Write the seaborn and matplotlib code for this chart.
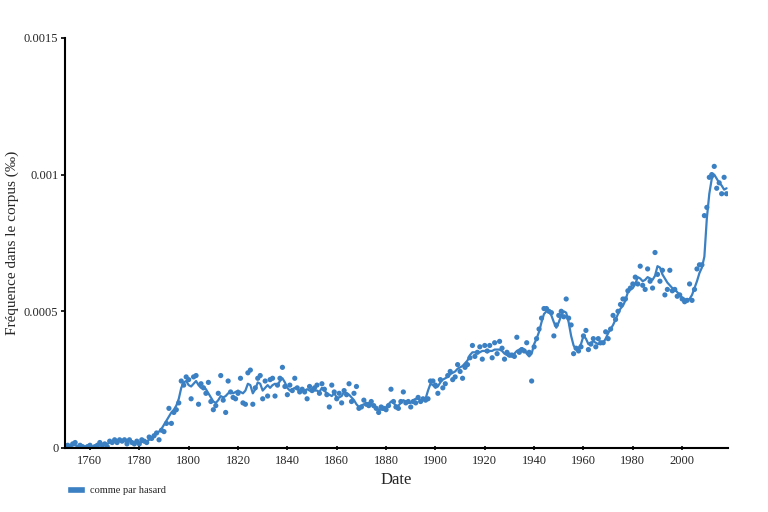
import numpy as np
import pandas as pd
import seaborn as sns
import matplotlib.pyplot as plt
from matplotlib.patches import Patch
from matplotlib.ticker import FixedLocator, FixedFormatter

# yearly frequencies, in units of 1e-4 per mille (1750-2018)
years = list(range(1750, 2019))

points = [
    0.0, 0.1, 0.05, 0.15, 0.2, 0.0, 0.1, 0.05, 0.0, 0.05,      # 1750s
    0.1, 0.0, 0.05, 0.1, 0.2, 0.1, 0.15, 0.05, 0.25, 0.2,      # 1760s
    0.3, 0.2, 0.3, 0.25, 0.3, 0.15, 0.3, 0.2, 0.15, 0.25,      # 1770s
    0.15, 0.3, 0.25, 0.2, 0.4, 0.35, 0.45, 0.55, 0.3, 0.65,    # 1780s
    0.6, 0.9, 1.45, 0.9, 1.3, 1.4, 1.65, 2.45, 2.3, 2.6,       # 1790s
    2.5, 1.8, 2.6, 2.65, 1.6, 2.35, 2.2, 2.0, 2.4, 1.7,        # 1800s
    1.4, 1.55, 2.0, 2.65, 1.75, 1.3, 2.45, 2.05, 1.85, 1.8,    # 1810s
    2.0, 2.55, 1.65, 1.6, 2.75, 2.85, 1.6, 2.2, 2.55, 2.65,    # 1820s
    1.8, 2.45, 1.9, 2.5, 2.55, 1.9, 2.3, 2.55, 2.95, 2.25,     # 1830s
    1.95, 2.3, 2.1, 2.55, 2.2, 2.05, 2.15, 2.05, 1.8, 2.25,    # 1840s
    2.1, 2.2, 2.3, 2.0, 2.35, 2.15, 1.95, 1.5, 2.3, 2.05,      # 1850s
    1.8, 2.0, 1.65, 2.1, 1.95, 2.35, 1.7, 2.0, 2.25, 1.45,     # 1860s
    1.5, 1.75, 1.6, 1.55, 1.7, 1.55, 1.45, 1.3, 1.5, 1.45,     # 1870s
    1.4, 1.55, 2.15, 1.7, 1.5, 1.45, 1.7, 2.05, 1.65, 1.7,     # 1880s
    1.5, 1.7, 1.65, 1.85, 1.7, 1.8, 1.75, 1.8, 2.45, 2.45,     # 1890s
    2.3, 2.0, 2.5, 2.2, 2.35, 2.65, 2.8, 2.5, 2.6, 3.05,       # 1900s
    2.8, 2.55, 2.95, 3.05, 3.3, 3.75, 3.35, 3.5, 3.7, 3.25,    # 1910s
    3.75, 3.55, 3.75, 3.3, 3.85, 3.45, 3.9, 3.65, 3.25, 3.5,   # 1920s
    3.4, 3.4, 3.35, 4.05, 3.5, 3.6, 3.55, 3.85, 3.5, 2.45,     # 1930s
    3.7, 4.0, 4.35, 4.75, 5.1, 5.1, 5.0, 4.95, 4.1, 4.5,       # 1940s
    4.85, 5.0, 4.8, 5.45, 4.75, 4.5, 3.45, 3.65, 3.55, 3.7,    # 1950s
    4.1, 4.3, 3.6, 3.8, 4.0, 3.7, 4.0, 3.85, 3.85, 4.25,       # 1960s
    4.0, 4.35, 4.85, 4.7, 5.0, 5.25, 5.45, 5.45, 5.75, 5.85,   # 1970s
    6.0, 6.25, 6.0, 6.65, 5.95, 5.8, 6.55, 6.1, 5.85, 7.15,    # 1980s
    6.35, 6.1, 6.5, 5.6, 5.8, 6.5, 5.75, 5.8, 5.55, 5.6,       # 1990s
    5.45, 5.35, 5.4, 6.0, 5.4, 5.8, 6.55, 6.7, 6.7, 8.5,       # 2000s
    8.8, 9.9, 10.0, 10.3, 9.5, 9.7, 9.3, 9.9, 9.3,             # 2010s
]

smooth = [
    0.05, 0.05, 0.08, 0.1, 0.1, 0.08, 0.05, 0.05, 0.05, 0.05,
    0.05, 0.05, 0.05, 0.05, 0.1, 0.15, 0.15, 0.15, 0.2, 0.2,
    0.22, 0.25, 0.25, 0.28, 0.28, 0.25, 0.25, 0.22, 0.2, 0.2,
    0.2, 0.22, 0.25, 0.25, 0.3, 0.35, 0.45, 0.55, 0.6, 0.7,
    0.85, 1.0, 1.15, 1.3, 1.4, 1.55, 1.8, 2.2, 2.4, 2.45,
    2.3, 2.25, 2.35, 2.45, 2.3, 2.2, 2.25, 2.15, 2.0, 1.85,
    1.7, 1.65, 1.75, 1.9, 1.85, 1.9, 2.0, 2.05, 2.0, 2.05,
    2.1, 2.05, 2.0, 2.1, 2.35, 2.3, 2.0, 2.15, 2.4, 2.35,
    2.1, 2.2, 2.3, 2.2, 2.3, 2.35, 2.3, 2.45, 2.55, 2.4,
    2.2, 2.1, 2.15, 2.2, 2.15, 2.1, 2.1, 2.1, 2.15, 2.1,
    2.15, 2.1, 2.1, 2.05, 2.2, 2.1, 2.0, 1.95, 1.9, 2.0,
    1.85, 1.85, 1.9, 2.05, 2.0, 1.95, 1.85, 1.75, 1.6, 1.5,
    1.55, 1.6, 1.6, 1.65, 1.6, 1.5, 1.45, 1.4, 1.4, 1.4,
    1.5, 1.6, 1.7, 1.65, 1.55, 1.55, 1.65, 1.75, 1.7, 1.65,
    1.65, 1.75, 1.8, 1.8, 1.75, 1.75, 1.8, 2.1, 2.35, 2.3,
    2.2, 2.25, 2.4, 2.5, 2.55, 2.6, 2.7, 2.75, 2.8, 2.9,
    2.95, 3.0, 3.1, 3.2, 3.4, 3.5, 3.5, 3.5, 3.5, 3.55,
    3.55, 3.5, 3.55, 3.55, 3.6, 3.6, 3.6, 3.55, 3.45, 3.4,
    3.35, 3.35, 3.45, 3.55, 3.6, 3.65, 3.6, 3.45, 3.35, 3.45,
    3.8, 4.0, 4.25, 4.6, 4.9, 5.0, 5.0, 4.85, 4.6, 4.4,
    4.6, 4.85, 5.0, 4.95, 4.6, 4.1, 3.75, 3.6, 3.65, 3.8,
    4.1, 4.0, 3.8, 3.85, 3.9, 3.85, 3.8, 3.8, 3.85, 4.0,
    4.2, 4.35, 4.5, 4.7, 4.9, 5.1, 5.2, 5.4, 5.7, 5.8,
    5.85, 6.0, 6.25, 6.2, 6.1, 6.15, 6.25, 6.2, 6.15, 6.3,
    6.65, 6.6, 6.35, 6.2, 6.05, 5.95, 5.85, 5.8, 5.7, 5.6,
    5.5, 5.45, 5.4, 5.45, 5.6, 5.85, 6.1, 6.4, 6.6, 7.0,
    8.4, 9.3, 9.85, 10.0, 9.85, 9.7, 9.6, 9.45, 9.5,
]

label = "comme par hasard"
yticks = [0, 0.0005, 0.001, 0.0015]
ytick_labels = ["0", "0.0005", "0.001", "0.0015"]
xticks = list(range(1760, 2001, 20))

df = pd.DataFrame({
    "Date": years,
    "points": np.array(points) * 1e-4,
    "smooth": np.array(smooth) * 1e-4,
})

sns.set_style("ticks")
plt.rcParams["font.family"] = ["Liberation Serif", "DejaVu Serif"]
color = "#3a80c3"

fig = plt.figure(figsize=(7.68, 5.12), dpi=100)
ax = fig.add_axes([0.085, 0.125, 0.863, 0.801])

sns.scatterplot(data=df, x="Date", y="points", ax=ax, color=color,
                s=14, edgecolor="none", clip_on=True)
sns.lineplot(data=df, x="Date", y="smooth", ax=ax, color=color, linewidth=1.6)

ax.set_xlim(1750, 2018.6)
ax.set_ylim(0, 0.0015)
ax.yaxis.set_major_locator(FixedLocator(yticks))
ax.yaxis.set_major_formatter(FixedFormatter(ytick_labels))
ax.set_xticks(xticks)
ax.tick_params(axis="both", labelsize=9, length=3, width=1.2, color="black")
ax.tick_params(axis="x", direction="inout")
ax.tick_params(axis="y", pad=2)
ax.set_xlabel("Date", fontsize=12)
ax.set_ylabel("Fréquence dans le corpus (‰)", fontsize=11)
ax.yaxis.set_label_coords(-0.07, 0.5)

sns.despine(ax=ax)
for side in ["left", "bottom"]:
    ax.spines[side].set_linewidth(1.5)
    ax.spines[side].set_color("black")

fig.legend(handles=[Patch(facecolor=color, label=label)], loc="lower left",
           bbox_to_anchor=(0.075, 0.015), frameon=False, fontsize=7.5,
           handlelength=1.7, handleheight=0.6, handletextpad=0.5)

fig.savefig("out.png", dpi=100)
